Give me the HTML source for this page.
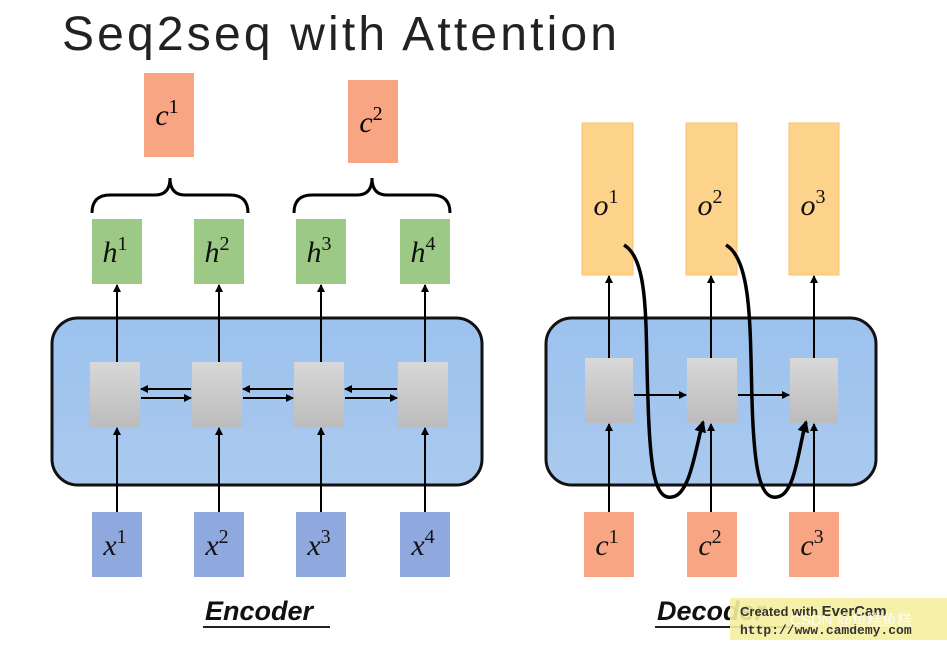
<!DOCTYPE html>
<html><head><style>
body{margin:0;background:#fff;width:947px;height:640px;overflow:hidden}
</style></head><body>
<svg width="947" height="640" xmlns="http://www.w3.org/2000/svg">
<defs>
<marker id="a" markerWidth="8" markerHeight="8" refX="7" refY="4" orient="auto" markerUnits="userSpaceOnUse"><path d="M0,0 L8,4 L0,8 z" fill="#000"/></marker>
<marker id="b" markerWidth="12" markerHeight="12" refX="10" refY="6" orient="auto" markerUnits="userSpaceOnUse"><path d="M0,0 L12,6 L0,12 z" fill="#000"/></marker>
<linearGradient id="g" x1="0" y1="0" x2="0" y2="1"><stop offset="0" stop-color="#d8d8d8"/><stop offset="1" stop-color="#bcbcbc"/></linearGradient>
<linearGradient id="bl" x1="0" y1="0" x2="0" y2="1"><stop offset="0" stop-color="#9cc2ee"/><stop offset="1" stop-color="#aac9ee"/></linearGradient>
</defs>
<text x="62" y="50" font-family="Liberation Sans, sans-serif" font-size="48" fill="#222" textLength="555" lengthAdjust="spacing">Seq2seq with Attention</text>
<g font-family="Liberation Serif, serif" font-style="italic" font-size="30" text-anchor="middle">
<rect x="144" y="73" width="50" height="84" fill="#f8a584"/><text x="167" y="125">c<tspan font-size="20" dy="-12" font-style="normal">1</tspan></text>
<rect x="348" y="80" width="50" height="83" fill="#f8a584"/><text x="371" y="132">c<tspan font-size="20" dy="-12" font-style="normal">2</tspan></text>
</g>
<path d="M92,213 Q92,195 110,195 L155,195 Q170,195 170,178 Q170,195 185,195 L230,195 Q248,195 248,213" fill="none" stroke="#000" stroke-width="3"/>
<path d="M294,213 Q294,195 312,195 L357,195 Q372,195 372,178 Q372,195 387,195 L432,195 Q450,195 450,213" fill="none" stroke="#000" stroke-width="3"/>
<rect x="52" y="318" width="430" height="167" rx="26" fill="url(#bl)" stroke="#111" stroke-width="3"/>
<rect x="546" y="318" width="330" height="167" rx="26" fill="url(#bl)" stroke="#111" stroke-width="3"/>
<g font-family="Liberation Serif, serif" font-style="italic" font-size="30" text-anchor="middle" fill="#111">
<rect x="92" y="219" width="50" height="65" fill="#9cc985"/><text x="115" y="262">h<tspan font-size="20" dy="-12" font-style="normal">1</tspan></text>
<rect x="194" y="219" width="50" height="65" fill="#9cc985"/><text x="217" y="262">h<tspan font-size="20" dy="-12" font-style="normal">2</tspan></text>
<rect x="296" y="219" width="50" height="65" fill="#9cc985"/><text x="319" y="262">h<tspan font-size="20" dy="-12" font-style="normal">3</tspan></text>
<rect x="400" y="219" width="50" height="65" fill="#9cc985"/><text x="423" y="262">h<tspan font-size="20" dy="-12" font-style="normal">4</tspan></text>
<rect x="92" y="512" width="50" height="65" fill="#8fa9de"/><text x="115" y="555">x<tspan font-size="20" dy="-12" font-style="normal">1</tspan></text>
<rect x="194" y="512" width="50" height="65" fill="#8fa9de"/><text x="217" y="555">x<tspan font-size="20" dy="-12" font-style="normal">2</tspan></text>
<rect x="296" y="512" width="50" height="65" fill="#8fa9de"/><text x="319" y="555">x<tspan font-size="20" dy="-12" font-style="normal">3</tspan></text>
<rect x="400" y="512" width="50" height="65" fill="#8fa9de"/><text x="423" y="555">x<tspan font-size="20" dy="-12" font-style="normal">4</tspan></text>
<rect x="582" y="123" width="51" height="152" fill="#fdd28a" stroke="#f7c46a"/><text x="606" y="215">o<tspan font-size="20" dy="-12" font-style="normal">1</tspan></text>
<rect x="686" y="123" width="51" height="152" fill="#fdd28a" stroke="#f7c46a"/><text x="710" y="215">o<tspan font-size="20" dy="-12" font-style="normal">2</tspan></text>
<rect x="789" y="123" width="50" height="152" fill="#fdd28a" stroke="#f7c46a"/><text x="813" y="215">o<tspan font-size="20" dy="-12" font-style="normal">3</tspan></text>
<rect x="584" y="512" width="50" height="65" fill="#f8a584"/><text x="607" y="555">c<tspan font-size="20" dy="-12" font-style="normal">1</tspan></text>
<rect x="687" y="512" width="50" height="65" fill="#f8a584"/><text x="710" y="555">c<tspan font-size="20" dy="-12" font-style="normal">2</tspan></text>
<rect x="789" y="512" width="50" height="65" fill="#f8a584"/><text x="812" y="555">c<tspan font-size="20" dy="-12" font-style="normal">3</tspan></text>
</g>
<g fill="url(#g)">
<rect x="90" y="362" width="50" height="65"/><rect x="192" y="362" width="50" height="65"/><rect x="294" y="362" width="50" height="65"/><rect x="398" y="362" width="50" height="65"/>
<rect x="585" y="358" width="48" height="65"/><rect x="687" y="358" width="50" height="65"/><rect x="790" y="358" width="48" height="65"/>
</g>
<g stroke="#000" stroke-width="2" marker-end="url(#a)">
<line x1="117" y1="362" x2="117" y2="285"/><line x1="219" y1="362" x2="219" y2="285"/><line x1="321" y1="362" x2="321" y2="285"/><line x1="425" y1="362" x2="425" y2="285"/>
<line x1="117" y1="512" x2="117" y2="428"/><line x1="219" y1="512" x2="219" y2="428"/><line x1="321" y1="512" x2="321" y2="428"/><line x1="425" y1="512" x2="425" y2="428"/>
<line x1="141" y1="398" x2="191" y2="398"/><line x1="191" y1="389" x2="141" y2="389"/>
<line x1="243" y1="398" x2="293" y2="398"/><line x1="293" y1="389" x2="243" y2="389"/>
<line x1="345" y1="398" x2="397" y2="398"/><line x1="397" y1="389" x2="345" y2="389"/>
<line x1="609" y1="358" x2="609" y2="276"/><line x1="711" y1="358" x2="711" y2="276"/><line x1="814" y1="358" x2="814" y2="276"/>
<line x1="609" y1="512" x2="609" y2="424"/><line x1="711" y1="512" x2="711" y2="424"/><line x1="814" y1="512" x2="814" y2="424"/>
<line x1="634" y1="395" x2="686" y2="395"/><line x1="738" y1="395" x2="789" y2="395"/>
</g>
<g stroke="#000" stroke-width="3.5" fill="none" marker-end="url(#b)">
<path d="M624,245 C650,260 645,330 648,400 C650,470 655,500 672,497 C690,495 695,450 703,422"/>
<path d="M726,245 C752,260 750,330 752,400 C754,470 760,500 777,497 C795,495 798,450 806,422"/>
</g>
<g font-family="Liberation Sans, sans-serif" font-weight="bold" font-style="italic" font-size="27" fill="#111">
<text x="205" y="620">Encoder</text>
<line x1="203" y1="627" x2="330" y2="627" stroke="#222" stroke-width="2"/>
<text x="657" y="620">Decoder</text>
<line x1="655" y1="627" x2="790" y2="627" stroke="#222" stroke-width="2"/>
</g>
<rect x="730" y="598" width="217" height="42" fill="#f5f0a0" opacity="0.9"/>
<text x="740" y="616" font-family="Liberation Sans, sans-serif" font-size="13" font-weight="bold" fill="#333">Created with <tspan font-size="15">EverCam</tspan></text>
<text x="740" y="634" font-family="Liberation Mono, monospace" font-size="13" font-weight="bold" fill="#333">http://www.camdemy.com</text>
<text x="790" y="625" font-family="Liberation Sans, 'Noto Sans CJK SC', sans-serif" font-size="15" fill="#fff" opacity="0.85">CSDN @鱼糕鱼糕</text>
</svg>
</body></html>
